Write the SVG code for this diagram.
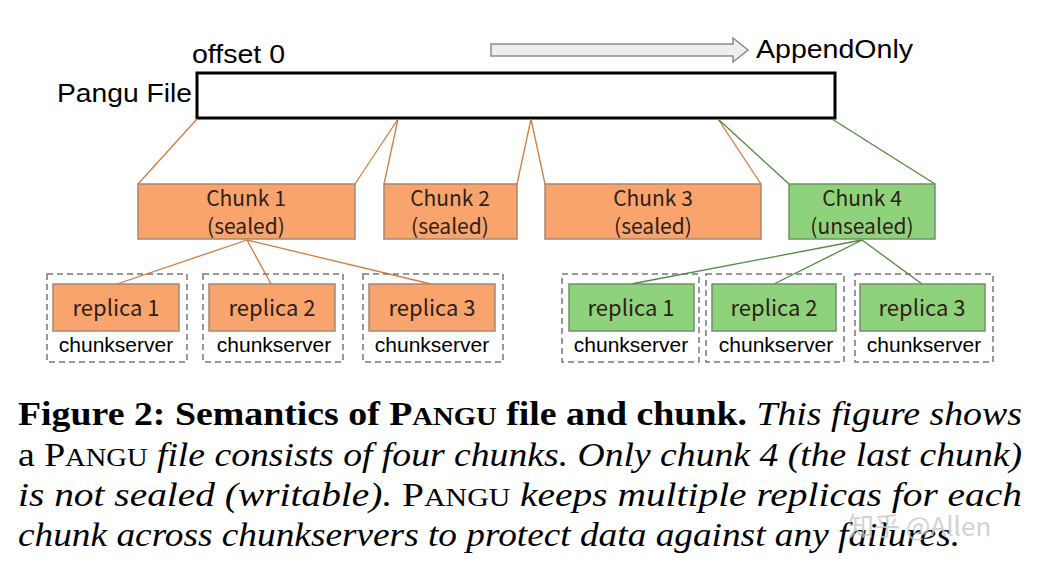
<svg xmlns="http://www.w3.org/2000/svg" width="1048" height="572" viewBox="0 0 1048 572">
<style>
.lbl{font-family:"Liberation Sans",Arial,sans-serif;fill:#000;font-size:25px}
.ct{font-family:"Noto Sans CJK SC","Liberation Sans",sans-serif;font-size:21px;fill:#2e2118;text-anchor:middle}
.rt{font-family:"Noto Sans CJK SC","Liberation Sans",sans-serif;font-size:22px;fill:#2e2118;text-anchor:middle}
.cs{font-family:"Liberation Sans",Arial,sans-serif;font-size:21px;fill:#000;text-anchor:middle}
.or{fill:#f9a36d;stroke:#a8876f;stroke-width:1.5}
.gr{fill:#8ed27b;stroke:#71906a;stroke-width:1.5}
.dash{fill:none;stroke:#777;stroke-width:1.5;stroke-dasharray:6 4}
.lo{stroke:#d77a3e;stroke-width:1.3;fill:none}
.lg{stroke:#4f8a3f;stroke-width:1.3;fill:none}
.cap{font-family:"Liberation Serif","Times New Roman",serif;font-size:33px;fill:#000}
</style>
<rect width="1048" height="572" fill="#fff"/>
<g id="arrow"><polygon points="491,44 733,44 733,38 748,50 733,62 733,56 491,56" fill="#eeeeee" stroke="#8a8a8a" stroke-width="1.5"/></g>
<text class="lbl" x="756" y="58" textLength="157" lengthAdjust="spacingAndGlyphs">AppendOnly</text>
<text class="lbl" x="192" y="63" textLength="93" lengthAdjust="spacingAndGlyphs">offset 0</text>
<g id="file"><rect x="197" y="73" width="638" height="45" fill="#fff" stroke="#000" stroke-width="3"/>
<text class="lbl" x="57" y="102" textLength="135" lengthAdjust="spacingAndGlyphs">Pangu File</text></g>
<g id="connectors">
<path class="lo" d="M197,119 L138,184 M398,119 L355,184 M398,119 L384,184 M531,119 L517,184 M531,119 L545,184 M718,119 L761,184"/>
<path class="lg" d="M718,119 L789,184 M832,119 L935,184"/>
<path class="lo" d="M247,240 L117,284 M247,240 L271,284 M247,240 L431,284"/>
<path class="lg" d="M862,240 L631,284 M862,240 L774,284 M862,240 L922,284"/>
</g>
<g id="chunk1"><rect class="or" x="138" y="184" width="217" height="55"/><text class="ct" x="246" y="206">Chunk 1</text><text class="ct" x="246" y="234">(sealed)</text></g>
<g id="chunk2"><rect class="or" x="384" y="184" width="133" height="55"/><text class="ct" x="450" y="206">Chunk 2</text><text class="ct" x="450" y="234">(sealed)</text></g>
<g id="chunk3"><rect class="or" x="545" y="184" width="216" height="55"/><text class="ct" x="653" y="206">Chunk 3</text><text class="ct" x="653" y="234">(sealed)</text></g>
<g id="chunk4"><rect class="gr" x="789" y="184" width="146" height="55"/><text class="ct" x="862" y="206">Chunk 4</text><text class="ct" x="862" y="234">(unsealed)</text></g>
<g id="s1"><rect class="dash" x="47" y="274" width="140" height="88"/><rect class="or" x="53" y="284" width="126" height="47"/><text class="rt" x="116" y="316">replica 1</text><text class="cs" x="116" y="352">chunkserver</text></g>
<g id="s2"><rect class="dash" x="203" y="274" width="140" height="88"/><rect class="or" x="209" y="284" width="126" height="47"/><text class="rt" x="272" y="316">replica 2</text><text class="cs" x="274" y="352">chunkserver</text></g>
<g id="s3"><rect class="dash" x="363" y="274" width="140" height="88"/><rect class="or" x="369" y="284" width="126" height="47"/><text class="rt" x="432" y="316">replica 3</text><text class="cs" x="432" y="352">chunkserver</text></g>
<g id="s4"><rect class="dash" x="562" y="274" width="137" height="88"/><rect class="gr" x="569" y="284" width="125" height="47"/><text class="rt" x="631" y="316">replica 1</text><text class="cs" x="631" y="352">chunkserver</text></g>
<g id="s5"><rect class="dash" x="706" y="274" width="138" height="88"/><rect class="gr" x="712" y="284" width="124" height="47"/><text class="rt" x="774" y="316">replica 2</text><text class="cs" x="776" y="352">chunkserver</text></g>
<g id="s6"><rect class="dash" x="855" y="274" width="138" height="88"/><rect class="gr" x="860" y="284" width="125" height="47"/><text class="rt" x="922" y="316">replica 3</text><text class="cs" x="924" y="352">chunkserver</text></g>
<g id="caption">
<text class="cap" x="18" y="425" textLength="1004" lengthAdjust="spacingAndGlyphs"><tspan font-weight="bold">Figure 2: Semantics of P<tspan font-size="25">ANGU</tspan> file and chunk.</tspan> <tspan font-style="italic">This figure shows</tspan></text>
<text class="cap" x="18" y="466" textLength="1004" lengthAdjust="spacingAndGlyphs" font-style="italic"><tspan font-style="normal">a P<tspan font-size="25">ANGU</tspan></tspan> file consists of four chunks. Only chunk 4 (the last chunk)</text>
<text class="cap" x="18" y="506" textLength="1004" lengthAdjust="spacingAndGlyphs" font-style="italic">is not sealed (writable).  <tspan font-style="normal">P<tspan font-size="25">ANGU</tspan></tspan> keeps multiple replicas for each</text>
<text class="cap" x="18" y="546" textLength="942" lengthAdjust="spacingAndGlyphs" font-style="italic">chunk across chunkservers to protect data against any failures.</text>
</g>
<text x="848" y="536" font-family="Noto Sans CJK SC,sans-serif" font-size="26" fill="#c8c8c8" opacity="0.8">知乎 @Allen</text>
</svg>
